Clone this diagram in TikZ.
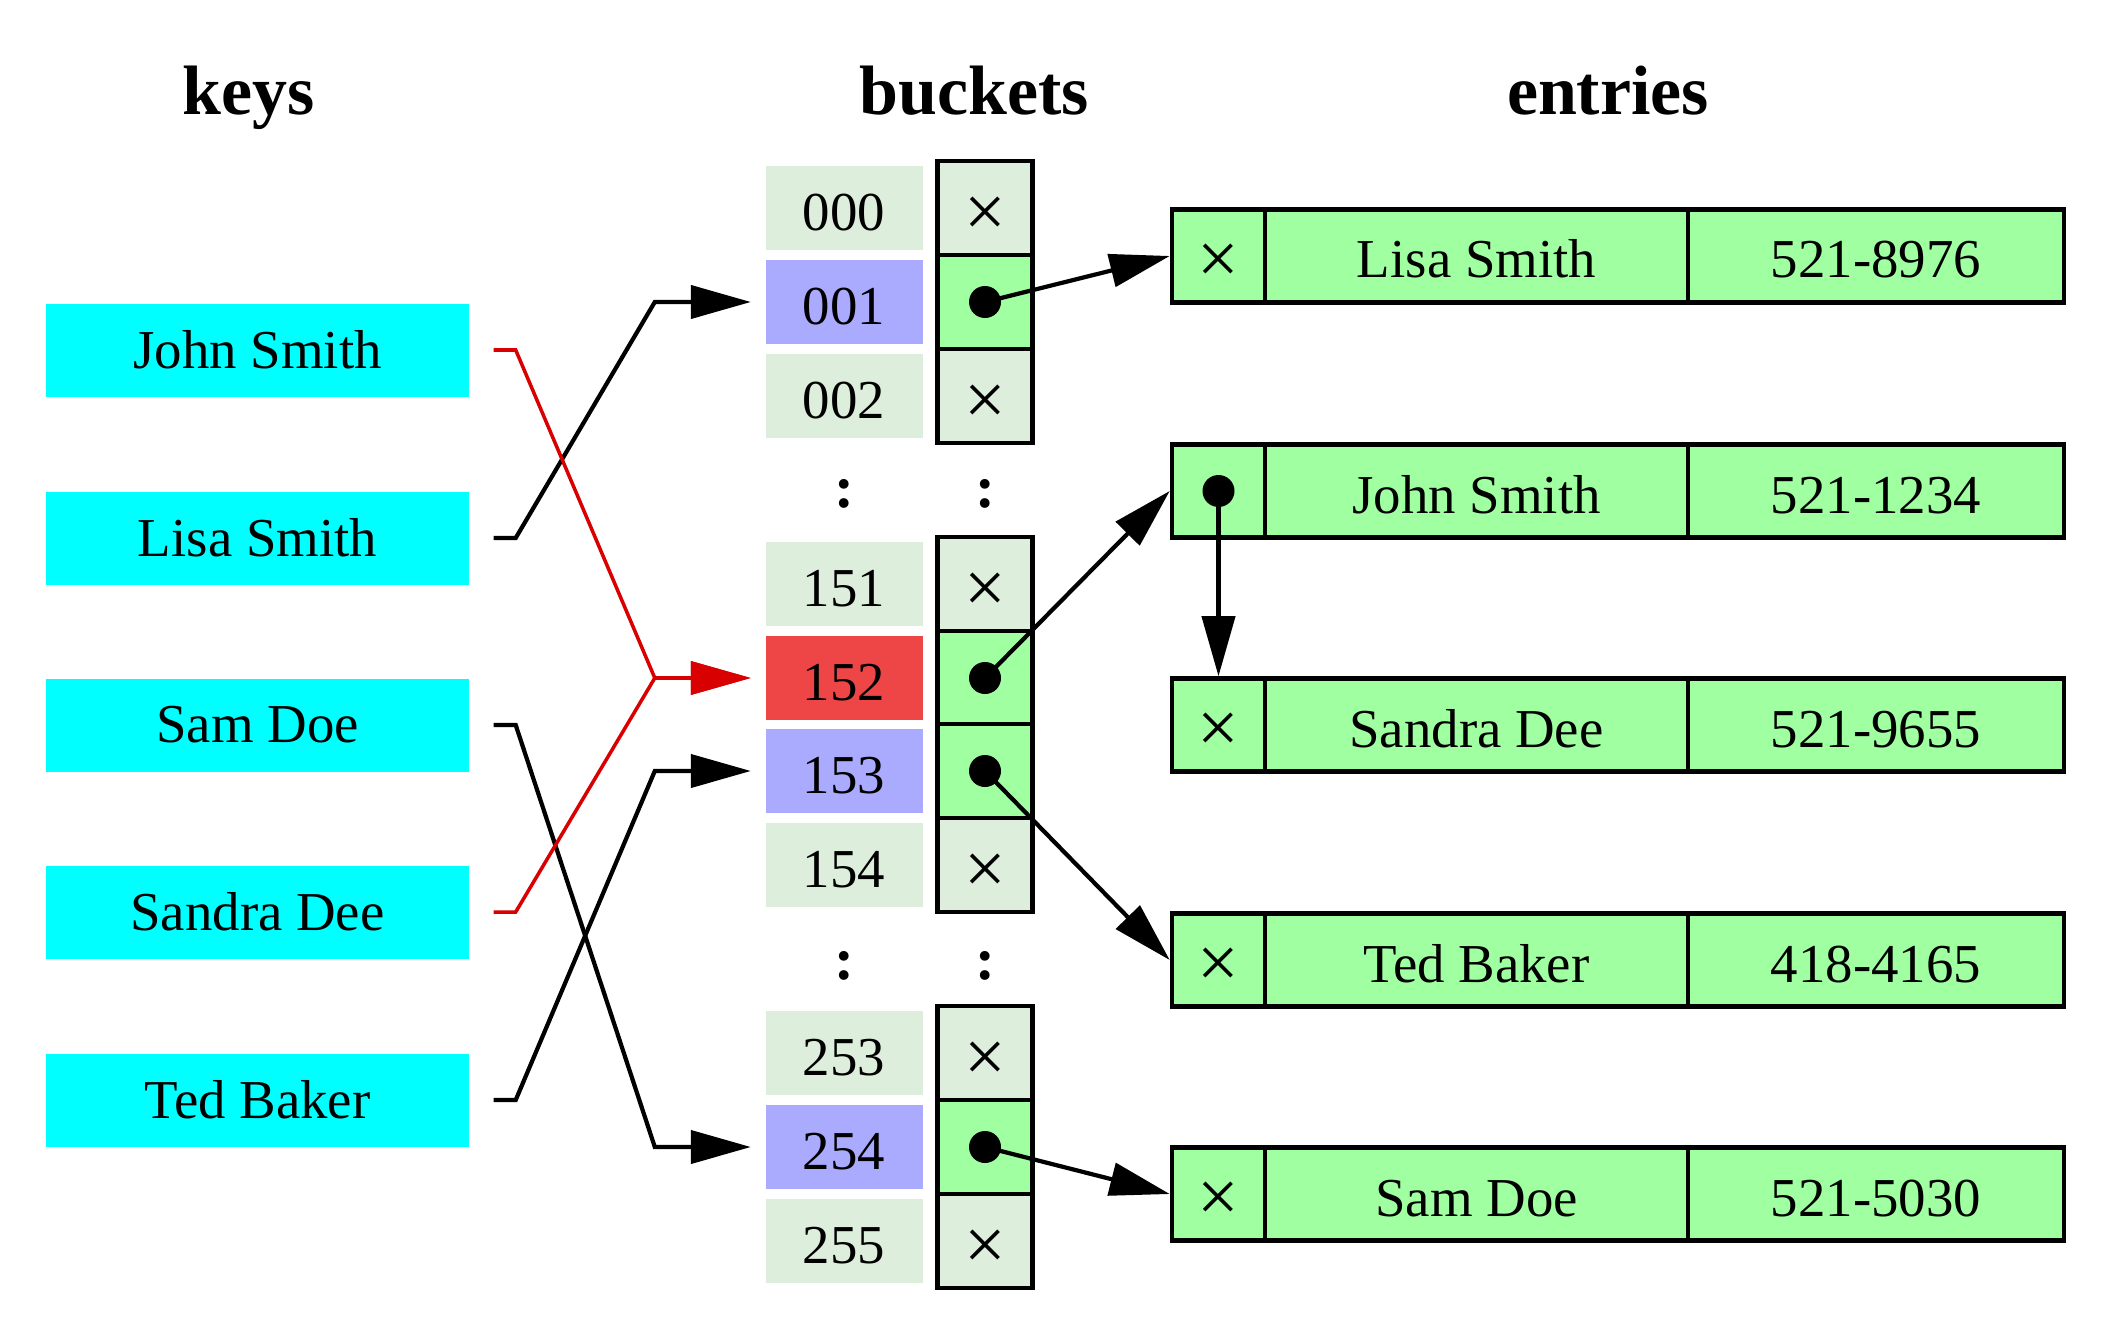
\documentclass[tikz,border=0pt]{standalone}
\usepackage{fontspec}
\setmainfont{Liberation Serif}
\usepackage{xcolor}
\usepackage{tikz}
\definecolor{keycyan}{HTML}{00FFFF}
\definecolor{cellgray}{HTML}{DDEEDD}
\definecolor{cellblue}{HTML}{AAAAFF}
\definecolor{cellred}{HTML}{EE4646}
\definecolor{entrygreen}{HTML}{A0FFA0}
\definecolor{linkred}{HTML}{D80000}
\newcommand{\nil}{\raisebox{-0.055cm}{\fontsize{21pt}{21pt}\selectfont ×}}
\tikzstyle{keybox} = [fill=keycyan, minimum width=4.23cm, minimum height=0.93cm, inner sep=0pt]
\tikzstyle{idx} = [fill=cellgray, minimum width=1.57cm, minimum height=0.84cm, inner sep=0pt, text height=0.44cm, text depth=0pt]
\tikzstyle{ptr} = [draw, line width=1.3pt, fill=cellgray, minimum width=0.95cm, minimum height=0.94cm, inner sep=0pt, text height=0.46cm, text depth=0pt]
\tikzstyle{full} = [ptr, fill=entrygreen]
\tikzstyle{ent} = [draw, line width=1.3pt, fill=entrygreen, minimum height=0.93cm, inner sep=0pt, text height=0.44cm, text depth=0pt]
\tikzstyle{blob} = [circle, fill=black, minimum size=0.32cm, inner sep=0pt]
\tikzstyle{gap} = [font=\bfseries\fontsize{17pt}{18pt}\selectfont]
\tikzstyle{colhead} = [anchor=base, font=\bfseries\fontsize{19.9pt}{24pt}\selectfont]
\tikzstyle{link} = [line width=1.2pt, -{Triangle[length=0.6cm, width=0.33cm]}]
\tikzstyle{hit} = [link, draw=linkred, line width=1pt]
\usetikzlibrary{arrows.meta,calc}

\begin{document}
\begin{tikzpicture}[every node/.style={font=\fontsize{15.6pt}{18pt}\selectfont}]
  \fill[white] (0,0) rectangle (21.10,13.18);

  % Headings
  \node[colhead] (hKeys)    at (2.49, 12.03)  {keys};
  \node[colhead] (hBuckets) at (9.74, 12.03)  {buckets};
  \node[colhead] (hEntries) at (16.08, 12.03) {entries};

  % Keys
  \node[keybox] (kJohn)   at (2.575, 9.68) {John Smith};
  \node[keybox] (kLisa)   at (2.575, 7.80) {Lisa Smith};
  \node[keybox] (kSam)    at (2.575, 5.93) {Sam Doe};
  \node[keybox] (kSandra) at (2.575, 4.06) {Sandra Dee};
  \node[keybox] (kTed)    at (2.575, 2.18) {Ted Baker};

  % Buckets
  \node[idx]                (i000) at (8.44, 11.10) {000};
  \node[idx, fill=cellblue] (i001) at (8.44, 10.16) {001};
  \node[idx]                (i002) at (8.44, 9.22)  {002};
  \node[gap]                (iGapA) at (8.44, 8.24) {:};
  \node[idx]                (i151) at (8.44, 7.34)  {151};
  \node[idx, fill=cellred]  (i152) at (8.44, 6.40)  {152};
  \node[idx, fill=cellblue] (i153) at (8.44, 5.47)  {153};
  \node[idx]                (i154) at (8.44, 4.53)  {154};
  \node[gap]                (iGapB) at (8.44, 3.52) {:};
  \node[idx]                (i253) at (8.44, 2.65)  {253};
  \node[idx, fill=cellblue] (i254) at (8.44, 1.71)  {254};
  \node[idx]                (i255) at (8.44, 0.77)  {255};

  \node[ptr]  (p000) at (9.85, 11.10) {\nil};
  \node[full] (p001) at (9.85, 10.16) {};
  \node[ptr]  (p002) at (9.85, 9.22)  {\nil};
  \node[gap]  (pGapA) at (9.85, 8.24) {:};
  \node[ptr]  (p151) at (9.85, 7.34)  {\nil};
  \node[full] (p152) at (9.85, 6.40)  {};
  \node[full] (p153) at (9.85, 5.47)  {};
  \node[ptr]  (p154) at (9.85, 4.53)  {\nil};
  \node[gap]  (pGapB) at (9.85, 3.52) {:};
  \node[ptr]  (p253) at (9.85, 2.65)  {\nil};
  \node[full] (p254) at (9.85, 1.71)  {};
  \node[ptr]  (p255) at (9.85, 0.77)  {\nil};

  \node[blob] (d001) at (p001.center) {};
  \node[blob] (d152) at (p152.center) {};
  \node[blob] (d153) at (p153.center) {};
  \node[blob] (d254) at (p254.center) {};

  % Entries
  \node[ent, minimum width=0.93cm] (eLisa)   at (12.185, 10.62) {\nil};
  \node[ent, minimum width=4.23cm] (nLisa)   at (14.765, 10.62) {Lisa Smith};
  \node[ent, minimum width=3.76cm] (tLisa)   at (18.76, 10.62)  {521-8976};

  \node[ent, minimum width=0.93cm] (eJohn)   at (12.185, 8.27)  {};
  \node[ent, minimum width=4.23cm] (nJohn)   at (14.765, 8.27)  {John Smith};
  \node[ent, minimum width=3.76cm] (tJohn)   at (18.76, 8.27)   {521-1234};

  \node[ent, minimum width=0.93cm] (eSandra) at (12.185, 5.93)  {\nil};
  \node[ent, minimum width=4.23cm] (nSandra) at (14.765, 5.93)  {Sandra Dee};
  \node[ent, minimum width=3.76cm] (tSandra) at (18.76, 5.93)   {521-9655};

  \node[ent, minimum width=0.93cm] (eTed)    at (12.185, 3.58)  {\nil};
  \node[ent, minimum width=4.23cm] (nTed)    at (14.765, 3.58)  {Ted Baker};
  \node[ent, minimum width=3.76cm] (tTed)    at (18.76, 3.58)   {418-4165};

  \node[ent, minimum width=0.93cm] (eSam)    at (12.185, 1.24)  {\nil};
  \node[ent, minimum width=4.23cm] (nSam)    at (14.765, 1.24)  {Sam Doe};
  \node[ent, minimum width=3.76cm] (tSam)    at (18.76, 1.24)   {521-5030};

  \node[blob] (dJohn) at (eJohn.center) {};

  % Hashing
  \draw[link] ([xshift=0.24cm]kLisa.east) -- ([xshift=0.46cm]kLisa.east)
    -- ([xshift=-1.1cm]i001.west) -- ([xshift=-0.14cm]i001.west);
  \draw[link] ([xshift=0.24cm]kSam.east) -- ([xshift=0.46cm]kSam.east)
    -- ([xshift=-1.1cm]i254.west) -- ([xshift=-0.14cm]i254.west);
  \draw[link] ([xshift=0.24cm]kTed.east) -- ([xshift=0.46cm]kTed.east)
    -- ([xshift=-1.1cm]i153.west) -- ([xshift=-0.14cm]i153.west);
  \draw[hit] ([xshift=0.24cm]kJohn.east) -- ([xshift=0.46cm]kJohn.east)
    -- ([xshift=-1.1cm]i152.west) -- ([xshift=-0.14cm]i152.west);
  \draw[hit] ([xshift=0.24cm]kSandra.east) -- ([xshift=0.46cm]kSandra.east)
    -- ([xshift=-1.1cm]i152.west) -- ([xshift=-0.14cm]i152.west);

  % Pointers
  \draw[link] (d001.center) -- (eLisa.west);
  \draw[link] (d152.center) -- (eJohn.west);
  \draw[link] (d153.center) -- (eTed.west);
  \draw[link] (d254.center) -- (eSam.west);
  \draw[link] (dJohn.center) -- (eSandra.north);
\end{tikzpicture}
\end{document}
